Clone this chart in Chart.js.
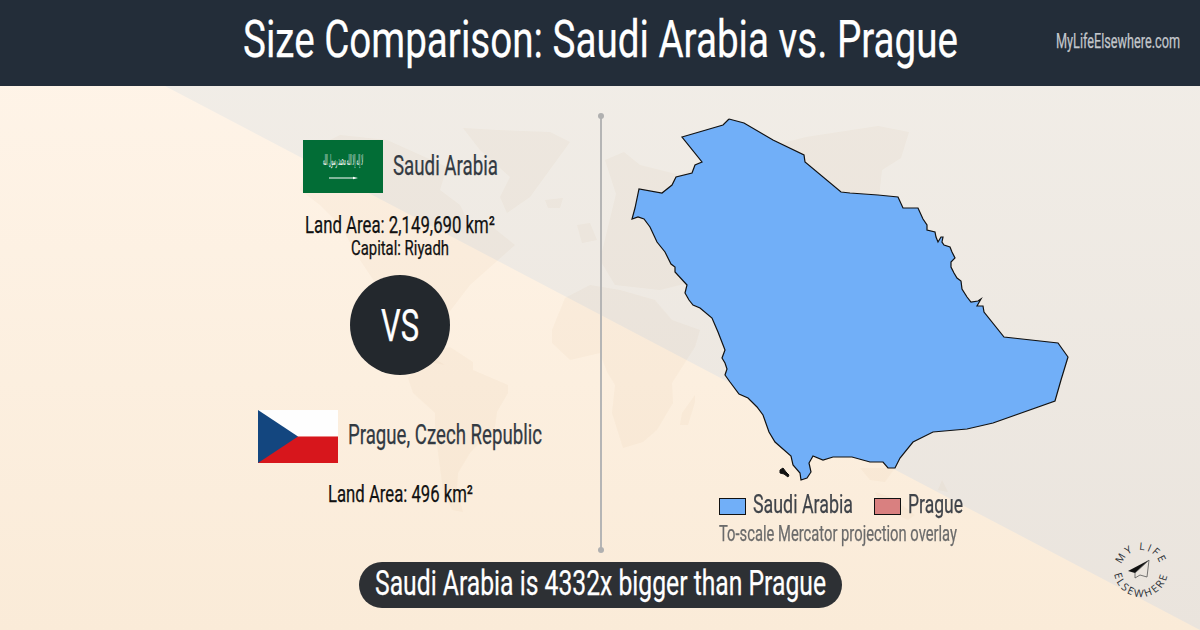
<!DOCTYPE html>
<html>
<head>
<meta charset="utf-8">
<title>Size Comparison: Saudi Arabia vs. Prague</title>
<script src="https://cdn.jsdelivr.net/npm/chart.js@4"></script>
<style>
  html, body { margin: 0; padding: 0; }
  #page { position: relative; width: 1200px; height: 630px; overflow: hidden;
          background: linear-gradient(#fff5ea, #faebd8);
          font-family: "Liberation Sans Narrow", "Roboto", sans-serif; }
  #shade { position: absolute; left: 0; top: 0; width: 1200px; height: 630px;
           background: linear-gradient(#f2eee8, #eae4dd);
           clip-path: polygon(165px 86px, 1200px 86px, 1200px 630px); }
  #world { position: absolute; left: 0; top: 0; }
  #header { position: absolute; left: 0; top: 0; width: 1200px; height: 86px; background: #232d39; }
  #rule { position: absolute; left: 600px; top: 115px; width: 2px; height: 435px; background: #b5b5b5; }
  .dot { position: absolute; left: 598px; width: 6px; height: 6px; border-radius: 50%; background: #b0b0b0; }
  #vs { position: absolute; left: 350px; top: 275px; width: 100px; height: 100px; border-radius: 50%; background: #23282d; }
  #pill { position: absolute; left: 359px; top: 562px; width: 483px; height: 46px; border-radius: 23px; background: #2d3034; }
  .swatch { position: absolute; top: 498px; width: 25px; height: 15px; border: 1px solid #111; }
  .t { position: absolute; white-space: nowrap; transform-origin: left center; -webkit-text-stroke: 0.25px currentColor; }
  #mapChart { position: absolute; left: 610px; top: 100px; }
  svg.flag { position: absolute; opacity: 0.99; }
</style>
</head>
<body>
<div id="page">
  <div id="shade"></div>
  <svg id="world" width="1200" height="630" fill="#a87a3c" fill-opacity="0.04">
    <path d="M408 378L430 352L450 347L473 362L473 370L508 385L508 393L497 412L495 427L470 453L458 473L457 490L463 512L452 510L443 490L435 430L435 413L413 393Z"/>
    <path d="M552 330L565 298L590 285L620 290L655 300L672 320L700 330L695 347L672 383L673 403L657 430L643 442L623 448L612 413L615 385L607 372L600 353L570 360L552 343Z"/>
    <path d="M695 395L682 413L680 425L688 425L695 402Z"/>
    <path d="M510 177L500 197L507 213L530 197L570 142L550 132L497 130L463 128L480 150Z"/>
    <path d="M300 190L310 150L340 135L387 140L447 167L440 190L460 205L470 225L490 225L515 245L470 285L447 315L420 305L405 315L420 350L445 365L420 360L400 320L360 260L340 225L320 205Z"/>
    <path d="M545 200L563 198L560 208L548 208Z"/>
    <path d="M577 225L590 223L597 240L582 243Z"/>
    <path d="M605 160L624 152L640 165L680 175L700 165L806 137L878 126L909 132L901 158L882 170L878 206L800 260L700 280L660 290L615 285L600 260L616 194Z"/>
    <path d="M860 468L895 468L885 482L870 480Z"/>
    <path d="M875 492L893 498L915 515L908 520L882 508Z"/>
    <path d="M942 480L948 492L938 490Z"/>
  </svg>

  <div id="header"></div>
  <div id="rule"></div>
  <div class="dot" style="top:113px"></div>
  <div class="dot" style="top:547px"></div>
  <div id="vs"></div>
  <div id="pill"></div>

  <svg class="flag" style="left:303px;top:140px" width="80" height="53">
    <rect width="80" height="53" fill="#006c35"/>
    <text x="40" y="25" text-anchor="middle" font-family="DejaVu Sans" font-size="14" fill="#fff" textLength="40" lengthAdjust="spacingAndGlyphs">لا إله إلا الله محمد رسول الله</text>
    <path d="M26 37.6H50V36.8L55 38L50 39.2V38.4H26Z" fill="#fff"/>
  </svg>
  <svg class="flag" style="left:258px;top:410px" width="80" height="53">
    <rect width="80" height="26.5" fill="#fff"/>
    <rect y="26.5" width="80" height="26.5" fill="#d7141a"/>
    <path d="M0 0L40 26.5L0 53Z" fill="#11457e"/>
  </svg>

  <canvas id="mapChart" width="480" height="390"></canvas>

  <div class="swatch" style="left:719px;background:#71aff8"></div>
  <div class="swatch" style="left:874px;background:#d98080"></div>

  <svg id="logo" style="position:absolute;left:1101px;top:530px" width="80" height="80">
    <defs>
      <path id="arcTop" d="M20 40A20 20 0 0 1 60 40"/>
      <path id="arcBot" d="M13 40A27 27 0 0 0 67 40"/>
    </defs>
    <text font-family="Open Sans" font-size="10.5" fill="#2a2e33" letter-spacing="2" text-anchor="middle"><textPath href="#arcTop" startOffset="50%">MY LIFE</textPath></text>
    <text font-family="Open Sans" font-size="10.5" fill="#2a2e33" letter-spacing="2" text-anchor="middle"><textPath href="#arcBot" startOffset="50%">ELSEWHERE</textPath></text>
    <path d="M48 30L27 41L34 43Z" fill="#111"/>
    <path d="M48 30L34 43L34 48L39 45L46 47Z" fill="none" stroke="#555" stroke-width="0.8"/>
  </svg>
</div>

<script>
// map outline (map units = page pixels)
const saudiX = [729,744,773,804,805,841,850,878,898,903,918,923,927,927,935,936,938,941,943,942,944,950,952,955,951,951,954,957,961,962,967,971,978,981,977,983,984,1004,1058,1068,1061,1055,993,967,933,913,900,895,888,883,870,852,833,823,813,809,811,807,801,800,793,791,775,769,763,757,748,739,730,725,727,725,722,725,718,712,700,693,689,685,687,675,675,671,665,657,650,644,638,632,635,639,662,672,676,692,695,702,682,723,729];
const saudiY = [119,123,140,155,162,192,193,195,197,208,208,219,225,230,232,237,242,237,237,242,245,247,252,258,262,267,273,278,281,289,297,302,301,299,306,306,312,337,343,357,380,401,423,429,432,442,458,468,468,462,462,457,457,460,456,463,472,478,480,473,465,456,442,432,415,407,398,394,382,375,369,363,358,350,332,318,308,305,300,293,285,272,267,264,252,242,227,219,217,219,208,189,193,185,177,173,165,162,137,125,119];
const pragueX = [835,838,841,842,841,838,835,835];
const pragueY = [311,309,310,312,315,316,315,311];
const islandX = [780,783,786,789,788,784,780,780];
const islandY = [470,468,472,475,477,474,473,470];

// text: label, left, width, middle of the caps, font size, colour
const labels = ["Size Comparison: Saudi Arabia vs. Prague","MyLifeElsewhere.com","Saudi Arabia","Land Area: 2,149,690 km²","Capital: Riyadh","VS","Prague, Czech Republic","Land Area: 496 km²","Saudi Arabia","Prague","To-scale Mercator projection overlay","Saudi Arabia is 4332x bigger than Prague"];
const lefts = [243,1056,393,305,351,381,348,328,753,908,719,375];
const widths = [715,124,105,190,98,38,194,145,100,55,238,451];
const middles = [40,41,166,225,248,326,435,494,504,504,534,583];
const sizes = [52,20,27,24,20,44,27,24,26,26,22,35];
const colours = ["#fff","#c3c7cc","#333a42","#111","#111","#fff","#333a42","#111","#40444a","#40444a","#6b6b6b","#fff"];

const page = document.getElementById('page');
labels.forEach((txt, i) => {
  const el = document.createElement('div');
  el.className = 't';
  el.textContent = txt;
  el.style.left = lefts[i] + 'px';
  el.style.top = (middles[i] - sizes[i] / 2) + 'px';
  el.style.fontSize = sizes[i] + 'px';
  el.style.lineHeight = sizes[i] + 'px';
  el.style.color = colours[i];
  page.appendChild(el);
  // squeeze each label to the width it has in the picture
  el.style.transform = 'scaleX(' + (widths[i] / el.getBoundingClientRect().width) + ')';
});

function toPoints(xs, ys) {
  return xs.map((x, i) => ({x: x, y: ys[i]}));
}

new Chart(document.getElementById('mapChart').getContext('2d'), {
  type: 'scatter',
  data: {
    datasets: [
      {label: 'Saudi Arabia', data: toPoints(saudiX, saudiY), showLine: true, fill: 'shape',
       backgroundColor: '#71aff8', borderColor: '#111', borderWidth: 1.2, pointRadius: 0},
      {label: 'Prague', data: toPoints(pragueX, pragueY), showLine: true, fill: 'shape',
       backgroundColor: '#111', borderColor: '#111', borderWidth: 1, pointRadius: 0},
      {label: 'Islands', data: toPoints(islandX, islandY), showLine: true, fill: 'shape',
       backgroundColor: '#111', borderColor: '#111', borderWidth: 1, pointRadius: 0}
    ]
  },
  options: {
    responsive: false,
    animation: false,
    layout: {padding: 0},
    plugins: {legend: {display: false}, tooltip: {enabled: false}},
    scales: {
      x: {type: 'linear', min: 610, max: 1090, display: false},
      y: {type: 'linear', min: 100, max: 490, reverse: true, display: false}
    }
  }
});
</script>
</body>
</html>
